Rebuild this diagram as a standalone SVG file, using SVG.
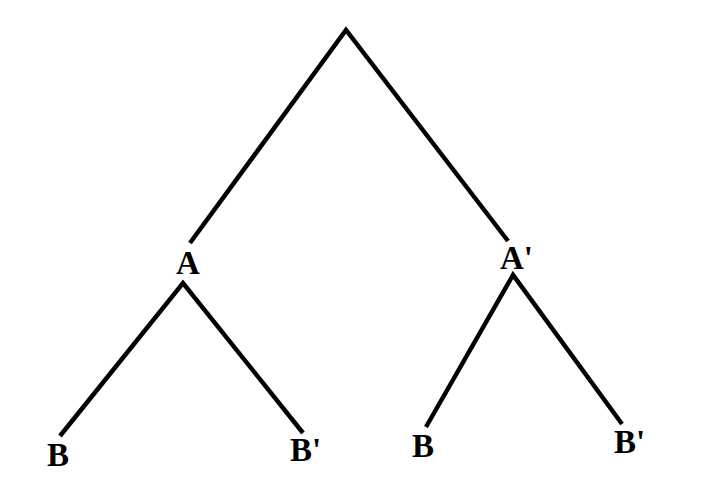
<svg xmlns="http://www.w3.org/2000/svg" width="720" height="501" viewBox="0 0 720 501">
<style>
.e{fill:none;stroke:#000;stroke-width:4.5;stroke-linejoin:miter;stroke-linecap:butt}
.t{font-family:"Liberation Serif","Times New Roman",serif;font-weight:bold;font-size:33px;fill:#000}
</style>
<rect width="720" height="501" fill="#fff"/>
<g id="connectors">
<polyline class="e" points="190,243 346,30 508,241"/>
<polyline class="e" points="60,436 183,283 303,433"/>
<polyline class="e" points="426,427 513,275 622,424"/>
</g>
<g id="nA"><text class="t" x="176" y="274">A</text></g>
<g id="nA2"><text class="t" x="500" y="269">A'</text></g>
<g id="nB1"><text class="t" x="47" y="466">B</text></g>
<g id="nB1p"><text class="t" x="290" y="461">B'</text></g>
<g id="nB2"><text class="t" x="412" y="457">B</text></g>
<g id="nB2p"><text class="t" x="614" y="453">B'</text></g>
</svg>
